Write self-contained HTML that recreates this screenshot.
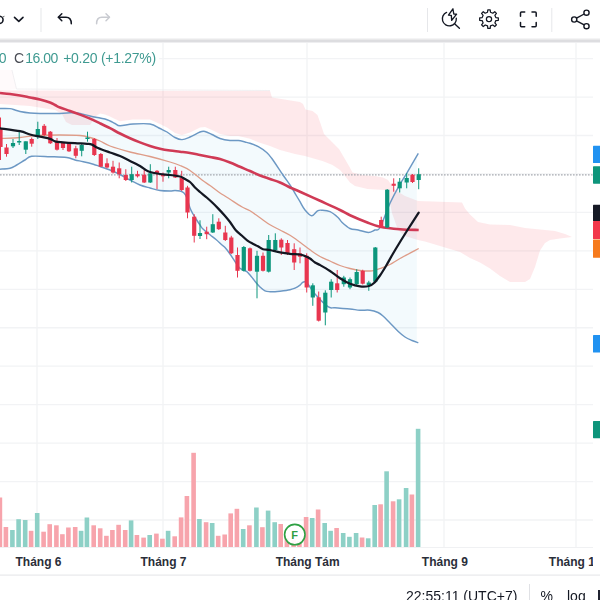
<!DOCTYPE html>
<html><head><meta charset="utf-8">
<style>
html,body{margin:0;padding:0;background:#fff;}
body{width:600px;height:600px;overflow:hidden;position:relative;font-family:"Liberation Sans",sans-serif;}
#root{position:absolute;left:0;top:0;width:600px;height:600px;background:#fff;filter:blur(0.6px);}
.abs{position:absolute;}
.lg{top:49.5px;font-size:14px;white-space:nowrap;letter-spacing:-0.3px}
.tl{top:554.5px;font-size:12px;font-weight:bold;color:#2A2E39;white-space:nowrap}
.ft{top:588px;font-size:14px;color:#131722;white-space:nowrap}
</style></head>
<body><div id="root">
<svg class="abs" style="left:0;top:0" width="600" height="600" viewBox="0 0 600 600">
<!-- header -->
<rect x="0" y="0" width="600" height="39" fill="#FFFFFF"/>
<rect x="0" y="38.5" width="600" height="1" fill="#EAEAEC"/>
<rect x="0" y="39.5" width="600" height="2.5" fill="#DDDDE0"/>
<rect x="0" y="42" width="600" height="1" fill="#EEEEF0"/>
<!-- left partial icon -->
<circle cx="-0.6" cy="19.8" r="3.7" fill="none" stroke="#131722" stroke-width="1.5"/><path d="M2.6,17.2 L4.4,16.3" stroke="#555" stroke-width="1"/>
<path d="M14.5,17.3 L18.8,21.3 L23,17.3" fill="none" stroke="#131722" stroke-width="1.6" stroke-linecap="round" stroke-linejoin="round"/>
<rect x="40.5" y="8" width="1" height="24" fill="#E6E7EA"/>
<!-- undo -->
<path d="M58.5,17.3 L66,17.3 C69.5,17.3 71.3,19.8 71.3,23.7" fill="none" stroke="#131722" stroke-width="1.5" stroke-linecap="round"/>
<path d="M61.8,13.8 L58.3,17.3 L61.8,20.8" fill="none" stroke="#131722" stroke-width="1.5" stroke-linecap="round" stroke-linejoin="round"/>
<!-- redo -->
<path d="M109.3,17.3 L101.8,17.3 C98.3,17.3 96.6,19.8 96.6,23.7" fill="none" stroke="#C9CBD1" stroke-width="1.5" stroke-linecap="round"/>
<path d="M106,13.8 L109.5,17.3 L106,20.8" fill="none" stroke="#C9CBD1" stroke-width="1.5" stroke-linecap="round" stroke-linejoin="round"/>
<rect x="427" y="8" width="1" height="24" fill="#E6E7EA"/>
<!-- search flash icon -->
<g fill="none" stroke="#131722" stroke-width="1.35" stroke-linejoin="round" stroke-linecap="round">
<path d="M446.6,12.4 A7,7 0 1 0 456.3,18.2"/>
<path d="M452.9,8.8 L448.5,15.1 L451.3,15.3 L451.7,20.4 L456.6,14.2 L453.8,14.0 Z"/>
<path d="M454.6,23.7 L459.4,28.3"/>
</g>
<!-- gear -->
<g transform="translate(489,19.1)">
<path d="M6.84,-1.47 L9.33,-1.18 L9.33,1.18 L6.84,1.47 L5.88,3.80 L7.43,5.76 L5.76,7.43 L3.80,5.88 L1.47,6.84 L1.18,9.33 L-1.18,9.33 L-1.47,6.84 L-3.80,5.88 L-5.76,7.43 L-7.43,5.76 L-5.88,3.80 L-6.84,1.47 L-9.33,1.18 L-9.33,-1.18 L-6.84,-1.47 L-5.88,-3.80 L-7.43,-5.76 L-5.76,-7.43 L-3.80,-5.88 L-1.47,-6.84 L-1.18,-9.33 L1.18,-9.33 L1.47,-6.84 L3.80,-5.88 L5.76,-7.43 L7.43,-5.76 L5.88,-3.80 Z" fill="none" stroke="#131722" stroke-width="1.25" stroke-linejoin="round"/>
<circle cx="0" cy="0" r="2.6" fill="none" stroke="#131722" stroke-width="1.25"/>
</g>
<!-- fullscreen -->
<g fill="none" stroke="#131722" stroke-width="1.5" stroke-linecap="round">
<path d="M520.5,16.2 L520.5,13 Q520.5,12 521.5,12 L524.7,12"/>
<path d="M532,12 L535.2,12 Q536.2,12 536.2,13 L536.2,16.2"/>
<path d="M520.5,22.6 L520.5,25.8 Q520.5,26.8 521.5,26.8 L524.7,26.8"/>
<path d="M532,26.8 L535.2,26.8 Q536.2,26.8 536.2,25.8 L536.2,22.6"/>
</g>
<rect x="551.3" y="8" width="1" height="24" fill="#E6E7EA"/>
<!-- share -->
<g fill="none" stroke="#131722" stroke-width="1.4">
<circle cx="574.2" cy="19.5" r="2.6"/>
<circle cx="586.5" cy="12.7" r="2.6"/>
<circle cx="586.5" cy="26.2" r="2.6"/>
<path d="M576.5,18.2 L584.2,14"/>
<path d="M576.5,20.8 L584.2,24.9"/>
</g>
<line x1="0" y1="58.6" x2="593" y2="58.6" stroke="#F2F3F5" stroke-width="1.3"/>
<line x1="0" y1="97.05000000000001" x2="593" y2="97.05000000000001" stroke="#F2F3F5" stroke-width="1.3"/>
<line x1="0" y1="135.5" x2="593" y2="135.5" stroke="#F2F3F5" stroke-width="1.3"/>
<line x1="0" y1="173.95000000000002" x2="593" y2="173.95000000000002" stroke="#F2F3F5" stroke-width="1.3"/>
<line x1="0" y1="212.4" x2="593" y2="212.4" stroke="#F2F3F5" stroke-width="1.3"/>
<line x1="0" y1="250.85" x2="593" y2="250.85" stroke="#F2F3F5" stroke-width="1.3"/>
<line x1="0" y1="289.3" x2="593" y2="289.3" stroke="#F2F3F5" stroke-width="1.3"/>
<line x1="0" y1="327.75000000000006" x2="593" y2="327.75000000000006" stroke="#F2F3F5" stroke-width="1.3"/>
<line x1="0" y1="366.20000000000005" x2="593" y2="366.20000000000005" stroke="#F2F3F5" stroke-width="1.3"/>
<line x1="0" y1="404.65000000000003" x2="593" y2="404.65000000000003" stroke="#F2F3F5" stroke-width="1.3"/>
<line x1="0" y1="443.1" x2="593" y2="443.1" stroke="#F2F3F5" stroke-width="1.3"/>
<line x1="0" y1="481.55000000000007" x2="593" y2="481.55000000000007" stroke="#F2F3F5" stroke-width="1.3"/>
<line x1="0" y1="520.0" x2="593" y2="520.0" stroke="#F2F3F5" stroke-width="1.3"/>
<line x1="37" y1="43" x2="37" y2="547" stroke="#F2F3F5" stroke-width="1.3"/>
<line x1="163" y1="43" x2="163" y2="547" stroke="#F2F3F5" stroke-width="1.3"/>
<line x1="307" y1="43" x2="307" y2="547" stroke="#F2F3F5" stroke-width="1.3"/>
<line x1="444" y1="43" x2="444" y2="547" stroke="#F2F3F5" stroke-width="1.3"/>
<line x1="576" y1="43" x2="576" y2="547" stroke="#F2F3F5" stroke-width="1.3"/>
<polygon points="0.0,90.5 17.0,90.5 270.0,91.0 272.0,97.5 300.0,102.0 303.0,104.0 305.5,109.5 312.5,111.0 317.5,115.0 321.0,125.0 324.0,134.0 329.0,139.0 334.0,144.0 339.0,149.0 344.0,157.5 349.0,166.0 352.5,172.5 362.5,175.0 375.0,176.0 383.0,177.5 388.0,180.0 395.0,190.0 405.0,196.0 418.0,201.0 462.0,202.5 465.0,208.5 470.0,214.5 478.0,222.0 490.0,224.4 510.0,225.0 525.0,228.0 540.0,229.5 555.0,231.0 565.0,234.0 572.0,237.0 572.0,237.0 560.0,238.5 550.0,240.0 545.0,243.0 540.0,250.5 535.0,267.0 530.0,279.0 525.0,282.0 510.0,282.0 500.0,276.0 490.0,268.5 480.0,262.5 470.0,258.0 460.0,252.0 450.0,249.0 440.0,246.0 425.0,241.5 418.0,240.0 405.0,236.0 398.0,230.0 392.0,213.0 388.0,193.0 385.0,190.0 367.5,189.0 355.0,186.0 350.0,182.5 345.0,176.0 340.0,170.0 332.5,165.0 322.5,161.0 305.0,156.0 295.0,154.0 280.0,150.0 270.0,146.0 258.3,142.2 250.0,138.8 245.0,137.5 238.3,136.0 230.0,136.0 220.0,134.0 212.0,130.0 205.0,127.0 200.0,127.5 190.0,132.5 182.0,135.1 175.0,133.0 167.0,127.5 160.0,124.0 150.0,119.5 133.0,119.5 120.0,121.3 115.0,119.0 110.0,116.5 105.0,114.5 100.0,113.5 96.0,116.0 90.0,125.0 72.0,125.0 66.0,122.0 62.0,114.0 55.0,110.0 30.0,106.0 0.0,104.0" fill="#F23645" fill-opacity="0.11"/>
<polygon points="0,62 10,62 16.5,89 0,91" fill="#F23645" fill-opacity="0.025"/>
<path d="M10,62 L16.5,89 L270,90.5" fill="none" stroke="#EEECEF" stroke-width="0.8"/>
<polygon points="0.0,108.5 10.0,108.6 15.0,110.0 20.0,111.5 30.0,113.0 40.0,113.5 60.0,113.5 70.0,112.7 75.0,112.8 80.0,113.5 90.0,116.0 100.0,118.0 105.0,119.0 110.0,121.0 115.0,123.5 120.0,125.8 133.0,124.0 150.0,124.0 160.0,128.5 167.0,132.0 175.0,137.5 182.0,139.6 190.0,137.0 200.0,132.0 205.0,131.5 212.0,134.5 220.0,138.5 230.0,140.5 238.3,140.5 245.0,142.0 250.0,143.3 258.3,146.7 266.7,152.5 271.7,158.3 283.0,175.0 290.0,185.0 295.0,193.3 300.0,201.7 305.0,210.0 311.7,215.8 317.5,210.8 322.0,210.2 330.0,211.7 338.0,217.5 341.7,222.0 350.0,228.5 358.3,230.0 368.3,232.5 375.0,230.0 380.0,227.5 390.0,203.3 400.0,184.2 406.7,173.3 416.8,155.9 416.8,342.3 412.0,340.5 405.0,337.0 398.0,331.2 390.0,323.0 383.0,316.0 378.0,312.5 370.0,310.2 360.0,310.2 350.0,309.0 335.0,307.8 328.0,306.7 315.0,294.0 307.0,283.0 303.0,282.2 300.0,285.2 295.0,288.2 290.0,289.7 280.0,291.2 275.0,291.7 270.0,291.7 265.0,290.8 260.0,287.0 256.0,282.5 253.0,278.7 250.0,275.0 247.0,271.7 245.0,270.8 240.0,268.3 238.0,265.8 235.0,261.7 230.0,254.0 225.0,247.5 222.0,245.0 216.0,239.5 210.0,234.8 203.0,229.0 200.0,225.0 196.0,219.0 193.0,214.0 190.0,208.0 187.0,198.0 184.0,193.0 180.0,191.0 175.0,190.5 170.0,191.0 160.0,190.5 150.0,188.0 140.0,185.0 130.0,180.0 120.0,174.5 110.0,170.0 100.0,166.5 93.3,164.2 83.3,161.7 75.0,160.0 66.7,157.5 50.0,156.7 31.7,156.3 25.0,160.0 16.7,165.0 10.0,168.3 0.0,169.2" fill="#2FA5D8" fill-opacity="0.06"/>
<line x1="0" y1="174.8" x2="593" y2="174.8" stroke="#A6A9B0" stroke-width="1.2" stroke-dasharray="1.6,1.4"/>
<path d="M0.00,108.50 C1.67,108.52 7.50,108.35 10.00,108.60 C12.50,108.85 13.33,109.52 15.00,110.00 C16.67,110.48 17.50,111.00 20.00,111.50 C22.50,112.00 26.67,112.67 30.00,113.00 C33.33,113.33 35.00,113.42 40.00,113.50 C45.00,113.58 55.00,113.63 60.00,113.50 C65.00,113.37 67.50,112.82 70.00,112.70 C72.50,112.58 73.33,112.67 75.00,112.80 C76.67,112.93 77.50,112.97 80.00,113.50 C82.50,114.03 86.67,115.25 90.00,116.00 C93.33,116.75 97.50,117.50 100.00,118.00 C102.50,118.50 103.33,118.50 105.00,119.00 C106.67,119.50 108.33,120.25 110.00,121.00 C111.67,121.75 113.33,122.70 115.00,123.50 C116.67,124.30 117.00,125.72 120.00,125.80 C123.00,125.88 128.00,124.30 133.00,124.00 C138.00,123.70 145.50,123.25 150.00,124.00 C154.50,124.75 157.17,127.17 160.00,128.50 C162.83,129.83 164.50,130.50 167.00,132.00 C169.50,133.50 172.50,136.23 175.00,137.50 C177.50,138.77 179.50,139.68 182.00,139.60 C184.50,139.52 187.00,138.27 190.00,137.00 C193.00,135.73 197.50,132.92 200.00,132.00 C202.50,131.08 203.00,131.08 205.00,131.50 C207.00,131.92 209.50,133.33 212.00,134.50 C214.50,135.67 217.00,137.50 220.00,138.50 C223.00,139.50 226.95,140.17 230.00,140.50 C233.05,140.83 235.80,140.25 238.30,140.50 C240.80,140.75 243.05,141.53 245.00,142.00 C246.95,142.47 247.78,142.52 250.00,143.30 C252.22,144.08 255.52,145.17 258.30,146.70 C261.08,148.23 264.47,150.57 266.70,152.50 C268.93,154.43 268.98,154.55 271.70,158.30 C274.42,162.05 279.95,170.55 283.00,175.00 C286.05,179.45 288.00,181.95 290.00,185.00 C292.00,188.05 293.33,190.52 295.00,193.30 C296.67,196.08 298.33,198.92 300.00,201.70 C301.67,204.48 303.05,207.65 305.00,210.00 C306.95,212.35 309.62,215.67 311.70,215.80 C313.78,215.93 315.78,211.73 317.50,210.80 C319.22,209.87 319.92,210.05 322.00,210.20 C324.08,210.35 327.33,210.48 330.00,211.70 C332.67,212.92 336.05,215.78 338.00,217.50 C339.95,219.22 339.70,220.17 341.70,222.00 C343.70,223.83 347.23,227.17 350.00,228.50 C352.77,229.83 355.25,229.33 358.30,230.00 C361.35,230.67 365.52,232.50 368.30,232.50 C371.08,232.50 373.05,230.83 375.00,230.00 C376.95,229.17 377.50,231.95 380.00,227.50 C382.50,223.05 386.67,210.52 390.00,203.30 C393.33,196.08 397.22,189.20 400.00,184.20 C402.78,179.20 403.65,178.45 406.70,173.30 C409.75,168.15 416.37,156.63 418.30,153.30" fill="none" stroke="#6C98C4" stroke-width="1.45" stroke-linejoin="round"/>
<path d="M0.00,169.20 C1.67,169.05 7.22,169.00 10.00,168.30 C12.78,167.60 14.20,166.38 16.70,165.00 C19.20,163.62 22.50,161.45 25.00,160.00 C27.50,158.55 27.53,156.85 31.70,156.30 C35.87,155.75 44.17,156.50 50.00,156.70 C55.83,156.90 62.53,156.95 66.70,157.50 C70.87,158.05 72.23,159.30 75.00,160.00 C77.77,160.70 80.25,161.00 83.30,161.70 C86.35,162.40 90.52,163.40 93.30,164.20 C96.08,165.00 97.22,165.53 100.00,166.50 C102.78,167.47 106.67,168.67 110.00,170.00 C113.33,171.33 116.67,172.83 120.00,174.50 C123.33,176.17 126.67,178.25 130.00,180.00 C133.33,181.75 136.67,183.67 140.00,185.00 C143.33,186.33 146.67,187.08 150.00,188.00 C153.33,188.92 156.67,190.00 160.00,190.50 C163.33,191.00 167.50,191.00 170.00,191.00 C172.50,191.00 173.33,190.50 175.00,190.50 C176.67,190.50 178.50,190.58 180.00,191.00 C181.50,191.42 182.83,191.83 184.00,193.00 C185.17,194.17 186.00,195.50 187.00,198.00 C188.00,200.50 189.00,205.33 190.00,208.00 C191.00,210.67 192.00,212.17 193.00,214.00 C194.00,215.83 194.83,217.17 196.00,219.00 C197.17,220.83 198.83,223.33 200.00,225.00 C201.17,226.67 201.33,227.37 203.00,229.00 C204.67,230.63 207.83,233.05 210.00,234.80 C212.17,236.55 214.00,237.80 216.00,239.50 C218.00,241.20 220.50,243.67 222.00,245.00 C223.50,246.33 223.67,246.00 225.00,247.50 C226.33,249.00 228.33,251.63 230.00,254.00 C231.67,256.37 233.67,259.73 235.00,261.70 C236.33,263.67 237.17,264.70 238.00,265.80 C238.83,266.90 238.83,267.47 240.00,268.30 C241.17,269.13 243.83,270.23 245.00,270.80 C246.17,271.37 246.17,271.00 247.00,271.70 C247.83,272.40 249.00,273.83 250.00,275.00 C251.00,276.17 252.00,277.45 253.00,278.70 C254.00,279.95 254.83,281.12 256.00,282.50 C257.17,283.88 258.50,285.62 260.00,287.00 C261.50,288.38 263.33,290.02 265.00,290.80 C266.67,291.58 268.33,291.55 270.00,291.70 C271.67,291.85 273.33,291.78 275.00,291.70 C276.67,291.62 277.50,291.53 280.00,291.20 C282.50,290.87 287.50,290.20 290.00,289.70 C292.50,289.20 293.33,288.95 295.00,288.20 C296.67,287.45 298.67,286.20 300.00,285.20 C301.33,284.20 301.83,282.57 303.00,282.20 C304.17,281.83 305.00,281.03 307.00,283.00 C309.00,284.97 311.50,290.05 315.00,294.00 C318.50,297.95 324.67,304.40 328.00,306.70 C331.33,309.00 331.33,307.42 335.00,307.80 C338.67,308.18 345.83,308.60 350.00,309.00 C354.17,309.40 356.67,310.00 360.00,310.20 C363.33,310.40 367.00,309.82 370.00,310.20 C373.00,310.58 375.83,311.53 378.00,312.50 C380.17,313.47 381.00,314.25 383.00,316.00 C385.00,317.75 387.50,320.47 390.00,323.00 C392.50,325.53 395.50,328.87 398.00,331.20 C400.50,333.53 402.67,335.45 405.00,337.00 C407.33,338.55 409.78,339.53 412.00,340.50 C414.22,341.47 417.25,342.42 418.30,342.80" fill="none" stroke="#6C98C4" stroke-width="1.45" stroke-linejoin="round"/>
<path d="M0.00,138.50 C3.33,138.33 14.17,138.00 20.00,137.50 C25.83,137.00 28.33,135.92 35.00,135.50 C41.67,135.08 52.50,135.00 60.00,135.00 C67.50,135.00 75.00,135.08 80.00,135.50 C85.00,135.92 86.67,136.58 90.00,137.50 C93.33,138.42 96.67,139.58 100.00,141.00 C103.33,142.42 105.00,144.17 110.00,146.00 C115.00,147.83 123.33,150.25 130.00,152.00 C136.67,153.75 143.33,154.83 150.00,156.50 C156.67,158.17 165.00,160.50 170.00,162.00 C175.00,163.50 176.67,164.08 180.00,165.50 C183.33,166.92 186.33,168.08 190.00,170.50 C193.67,172.92 198.67,177.50 202.00,180.00 C205.33,182.50 207.28,183.55 210.00,185.50 C212.72,187.45 214.97,189.40 218.30,191.70 C221.63,194.00 226.10,196.78 230.00,199.30 C233.90,201.82 238.37,204.88 241.70,206.80 C245.03,208.72 246.95,208.97 250.00,210.80 C253.05,212.63 256.67,215.47 260.00,217.80 C263.33,220.13 266.67,222.77 270.00,224.80 C273.33,226.83 276.67,228.25 280.00,230.00 C283.33,231.75 286.67,233.25 290.00,235.30 C293.33,237.35 296.67,239.88 300.00,242.30 C303.33,244.72 306.67,247.43 310.00,249.80 C313.33,252.17 316.67,254.63 320.00,256.50 C323.33,258.37 326.67,259.50 330.00,261.00 C333.33,262.50 336.67,264.25 340.00,265.50 C343.33,266.75 346.67,267.67 350.00,268.50 C353.33,269.33 356.67,270.08 360.00,270.50 C363.33,270.92 367.50,271.05 370.00,271.00 C372.50,270.95 373.33,270.62 375.00,270.20 C376.67,269.78 377.50,269.45 380.00,268.50 C382.50,267.55 386.67,266.17 390.00,264.50 C393.33,262.83 395.22,261.17 400.00,258.50 C404.78,255.83 415.58,250.17 418.70,248.50" fill="none" stroke="#DE9C88" stroke-width="1.3" stroke-linejoin="round"/>
<path d="M0.00,93.00 C1.67,93.17 6.67,93.58 10.00,94.00 C13.33,94.42 16.67,94.92 20.00,95.50 C23.33,96.08 26.67,96.83 30.00,97.50 C33.33,98.17 36.67,98.67 40.00,99.50 C43.33,100.33 47.50,101.58 50.00,102.50 C52.50,103.42 53.33,104.17 55.00,105.00 C56.67,105.83 57.50,106.52 60.00,107.50 C62.50,108.48 66.67,109.72 70.00,110.90 C73.33,112.08 76.67,113.32 80.00,114.60 C83.33,115.88 86.67,117.15 90.00,118.60 C93.33,120.05 96.67,121.70 100.00,123.30 C103.33,124.90 106.67,126.50 110.00,128.20 C113.33,129.90 116.67,131.82 120.00,133.50 C123.33,135.18 126.67,136.82 130.00,138.30 C133.33,139.78 136.67,141.12 140.00,142.40 C143.33,143.68 146.67,144.95 150.00,146.00 C153.33,147.05 156.67,147.95 160.00,148.70 C163.33,149.45 166.67,150.00 170.00,150.50 C173.33,151.00 176.67,151.28 180.00,151.70 C183.33,152.12 186.67,152.45 190.00,153.00 C193.33,153.55 196.67,154.33 200.00,155.00 C203.33,155.67 206.67,156.33 210.00,157.00 C213.33,157.67 216.67,158.08 220.00,159.00 C223.33,159.92 226.67,161.20 230.00,162.50 C233.33,163.80 236.67,165.38 240.00,166.80 C243.33,168.22 246.67,169.55 250.00,171.00 C253.33,172.45 256.67,174.17 260.00,175.50 C263.33,176.83 266.67,177.83 270.00,179.00 C273.33,180.17 276.67,181.08 280.00,182.50 C283.33,183.92 286.67,185.97 290.00,187.50 C293.33,189.03 295.00,189.48 300.00,191.70 C305.00,193.92 313.33,197.75 320.00,200.80 C326.67,203.85 335.00,207.58 340.00,210.00 C345.00,212.42 345.55,213.25 350.00,215.30 C354.45,217.35 361.70,220.40 366.70,222.30 C371.70,224.20 374.45,225.55 380.00,226.70 C385.55,227.85 393.55,228.65 400.00,229.20 C406.45,229.75 415.58,229.87 418.70,230.00" fill="none" stroke="#D03A55" stroke-width="2.6" stroke-linejoin="round"/>
<rect x="-2.4" y="497.5" width="4.6" height="49.5" fill="#F7A4AC"/>
<rect x="3.6" y="527.0" width="4.6" height="20.0" fill="#F7A4AC"/>
<rect x="10.1" y="530.0" width="4.6" height="17.0" fill="#8DD0C6"/>
<rect x="16.3" y="519.2" width="4.6" height="27.8" fill="#8DD0C6"/>
<rect x="22.9" y="520.0" width="4.6" height="27.0" fill="#8DD0C6"/>
<rect x="28.8" y="530.8" width="4.6" height="16.2" fill="#F7A4AC"/>
<rect x="34.9" y="513.0" width="4.6" height="34.0" fill="#8DD0C6"/>
<rect x="41.3" y="531.7" width="4.6" height="15.3" fill="#F7A4AC"/>
<rect x="47.4" y="524.2" width="4.6" height="22.8" fill="#F7A4AC"/>
<rect x="54.1" y="525.3" width="4.6" height="21.7" fill="#F7A4AC"/>
<rect x="60.1" y="534.2" width="4.6" height="12.8" fill="#F7A4AC"/>
<rect x="66.1" y="527.5" width="4.6" height="19.5" fill="#F7A4AC"/>
<rect x="72.9" y="527.0" width="4.6" height="20.0" fill="#F7A4AC"/>
<rect x="78.8" y="530.8" width="4.6" height="16.2" fill="#8DD0C6"/>
<rect x="84.6" y="517.5" width="4.6" height="29.5" fill="#8DD0C6"/>
<rect x="91.4" y="525.3" width="4.6" height="21.7" fill="#F7A4AC"/>
<rect x="97.9" y="528.3" width="4.6" height="18.7" fill="#F7A4AC"/>
<rect x="104.1" y="535.8" width="4.6" height="11.2" fill="#F7A4AC"/>
<rect x="110.1" y="530.0" width="4.6" height="17.0" fill="#F7A4AC"/>
<rect x="116.3" y="524.8" width="4.6" height="22.2" fill="#F7A4AC"/>
<rect x="122.9" y="530.0" width="4.6" height="17.0" fill="#F7A4AC"/>
<rect x="128.8" y="520.4" width="4.6" height="26.6" fill="#8DD0C6"/>
<rect x="134.6" y="535.0" width="4.6" height="12.0" fill="#F7A4AC"/>
<rect x="141.3" y="537.6" width="4.6" height="9.4" fill="#F7A4AC"/>
<rect x="147.4" y="535.0" width="4.6" height="12.0" fill="#8DD0C6"/>
<rect x="154.1" y="533.6" width="4.6" height="13.4" fill="#F7A4AC"/>
<rect x="160.1" y="538.7" width="4.6" height="8.3" fill="#F7A4AC"/>
<rect x="165.8" y="530.8" width="4.6" height="16.2" fill="#8DD0C6"/>
<rect x="172.4" y="536.3" width="4.6" height="10.7" fill="#F7A4AC"/>
<rect x="178.8" y="517.4" width="4.6" height="29.6" fill="#F7A4AC"/>
<rect x="184.6" y="496.0" width="4.6" height="51.0" fill="#F7A4AC"/>
<rect x="191.3" y="452.8" width="4.6" height="94.2" fill="#F7A4AC"/>
<rect x="197.1" y="519.0" width="4.6" height="28.0" fill="#8DD0C6"/>
<rect x="203.8" y="522.2" width="4.6" height="24.8" fill="#F7A4AC"/>
<rect x="209.9" y="523.0" width="4.6" height="24.0" fill="#8DD0C6"/>
<rect x="215.9" y="535.8" width="4.6" height="11.2" fill="#F7A4AC"/>
<rect x="222.4" y="534.5" width="4.6" height="12.5" fill="#F7A4AC"/>
<rect x="228.4" y="513.4" width="4.6" height="33.6" fill="#F7A4AC"/>
<rect x="234.6" y="508.8" width="4.6" height="38.2" fill="#F7A4AC"/>
<rect x="240.9" y="529.0" width="4.6" height="18.0" fill="#8DD0C6"/>
<rect x="247.1" y="525.3" width="4.6" height="21.7" fill="#F7A4AC"/>
<rect x="254.1" y="507.5" width="4.6" height="39.5" fill="#8DD0C6"/>
<rect x="260.1" y="527.2" width="4.6" height="19.8" fill="#F7A4AC"/>
<rect x="265.8" y="510.6" width="4.6" height="36.4" fill="#8DD0C6"/>
<rect x="272.4" y="522.2" width="4.6" height="24.8" fill="#8DD0C6"/>
<rect x="278.4" y="524.0" width="4.6" height="23.0" fill="#F7A4AC"/>
<rect x="284.6" y="538.0" width="4.6" height="9.0" fill="#F7A4AC"/>
<rect x="291.3" y="540.0" width="4.6" height="7.0" fill="#F7A4AC"/>
<rect x="297.1" y="541.0" width="4.6" height="6.0" fill="#F7A4AC"/>
<rect x="303.8" y="517.0" width="4.6" height="30.0" fill="#F7A4AC"/>
<rect x="309.9" y="518.0" width="4.6" height="29.0" fill="#8DD0C6"/>
<rect x="315.8" y="509.5" width="4.6" height="37.5" fill="#F7A4AC"/>
<rect x="322.4" y="523.0" width="4.6" height="24.0" fill="#8DD0C6"/>
<rect x="328.3" y="530.8" width="4.6" height="16.2" fill="#8DD0C6"/>
<rect x="334.3" y="528.0" width="4.6" height="19.0" fill="#F7A4AC"/>
<rect x="340.9" y="533.0" width="4.6" height="14.0" fill="#8DD0C6"/>
<rect x="347.1" y="536.8" width="4.6" height="10.2" fill="#8DD0C6"/>
<rect x="353.8" y="533.0" width="4.6" height="14.0" fill="#8DD0C6"/>
<rect x="359.8" y="537.5" width="4.6" height="9.5" fill="#F7A4AC"/>
<rect x="365.9" y="538.3" width="4.6" height="8.7" fill="#8DD0C6"/>
<rect x="372.4" y="505.0" width="4.6" height="42.0" fill="#8DD0C6"/>
<rect x="378.3" y="504.3" width="4.6" height="42.7" fill="#F7A4AC"/>
<rect x="384.3" y="471.3" width="4.6" height="75.7" fill="#8DD0C6"/>
<rect x="390.8" y="501.3" width="4.6" height="45.7" fill="#F7A4AC"/>
<rect x="396.8" y="499.3" width="4.6" height="47.7" fill="#8DD0C6"/>
<rect x="403.8" y="488.0" width="4.6" height="59.0" fill="#8DD0C6"/>
<rect x="409.6" y="494.5" width="4.6" height="52.5" fill="#F7A4AC"/>
<rect x="415.8" y="428.8" width="4.6" height="118.2" fill="#8DD0C6"/>
<rect x="0.0" y="117.5" width="1" height="42.5" fill="#E8364F"/>
<rect x="-1.6" y="128.0" width="4.2" height="19.0" fill="#E8364F"/>
<rect x="6.0" y="144.0" width="1" height="12.7" fill="#E8364F"/>
<rect x="4.4" y="147.5" width="4.2" height="6.5" fill="#E8364F"/>
<rect x="12.5" y="139.0" width="1" height="9.0" fill="#0C967C"/>
<rect x="10.9" y="143.0" width="4.2" height="3.3" fill="#0C967C"/>
<rect x="18.7" y="130.0" width="1" height="15.0" fill="#0C967C"/>
<rect x="17.1" y="141.0" width="4.2" height="1.5" fill="#0C967C"/>
<rect x="25.3" y="141.3" width="1" height="12.7" fill="#0C967C"/>
<rect x="23.7" y="141.3" width="4.2" height="8.4" fill="#0C967C"/>
<rect x="31.2" y="137.5" width="1" height="9.2" fill="#E8364F"/>
<rect x="29.6" y="139.0" width="4.2" height="4.7" fill="#E8364F"/>
<rect x="37.3" y="121.7" width="1" height="17.3" fill="#0C967C"/>
<rect x="35.7" y="129.0" width="4.2" height="7.7" fill="#0C967C"/>
<rect x="43.7" y="124.0" width="1" height="12.0" fill="#E8364F"/>
<rect x="42.1" y="125.8" width="4.2" height="9.2" fill="#E8364F"/>
<rect x="49.8" y="131.0" width="1" height="13.0" fill="#E8364F"/>
<rect x="48.2" y="131.7" width="4.2" height="11.6" fill="#E8364F"/>
<rect x="56.5" y="138.0" width="1" height="12.5" fill="#E8364F"/>
<rect x="54.9" y="141.7" width="4.2" height="8.0" fill="#E8364F"/>
<rect x="62.5" y="142.0" width="1" height="8.0" fill="#E8364F"/>
<rect x="60.9" y="143.0" width="4.2" height="5.0" fill="#E8364F"/>
<rect x="68.5" y="143.0" width="1" height="9.0" fill="#E8364F"/>
<rect x="66.9" y="143.3" width="4.2" height="8.0" fill="#E8364F"/>
<rect x="75.3" y="145.8" width="1" height="12.5" fill="#E8364F"/>
<rect x="73.7" y="148.3" width="4.2" height="7.5" fill="#E8364F"/>
<rect x="81.2" y="143.3" width="1" height="13.0" fill="#0C967C"/>
<rect x="79.6" y="145.0" width="4.2" height="5.8" fill="#0C967C"/>
<rect x="87.0" y="131.7" width="1" height="10.0" fill="#0C967C"/>
<rect x="85.4" y="137.5" width="4.2" height="1.5" fill="#0C967C"/>
<rect x="93.8" y="138.0" width="1" height="18.0" fill="#E8364F"/>
<rect x="92.2" y="139.0" width="4.2" height="16.0" fill="#E8364F"/>
<rect x="100.3" y="153.0" width="1" height="14.0" fill="#E8364F"/>
<rect x="98.7" y="154.0" width="4.2" height="12.7" fill="#E8364F"/>
<rect x="106.5" y="158.3" width="1" height="10.0" fill="#E8364F"/>
<rect x="104.9" y="163.3" width="4.2" height="4.2" fill="#E8364F"/>
<rect x="112.5" y="160.8" width="1" height="12.7" fill="#E8364F"/>
<rect x="110.9" y="166.7" width="4.2" height="5.8" fill="#E8364F"/>
<rect x="118.7" y="162.5" width="1" height="15.8" fill="#E8364F"/>
<rect x="117.1" y="168.3" width="4.2" height="5.9" fill="#E8364F"/>
<rect x="125.3" y="169.2" width="1" height="11.8" fill="#E8364F"/>
<rect x="123.7" y="175.0" width="4.2" height="5.0" fill="#E8364F"/>
<rect x="131.2" y="166.7" width="1" height="15.8" fill="#0C967C"/>
<rect x="129.6" y="174.2" width="4.2" height="5.8" fill="#0C967C"/>
<rect x="137.0" y="170.8" width="1" height="6.7" fill="#E8364F"/>
<rect x="135.4" y="174.2" width="4.2" height="2.1" fill="#E8364F"/>
<rect x="143.7" y="170.0" width="1" height="13.0" fill="#E8364F"/>
<rect x="142.1" y="174.7" width="4.2" height="7.8" fill="#E8364F"/>
<rect x="149.8" y="164.2" width="1" height="18.8" fill="#0C967C"/>
<rect x="148.2" y="173.3" width="4.2" height="9.2" fill="#0C967C"/>
<rect x="156.5" y="170.0" width="1" height="19.2" fill="#E8364F"/>
<rect x="154.9" y="170.8" width="4.2" height="2.5" fill="#E8364F"/>
<rect x="162.5" y="172.5" width="1" height="9.2" fill="#E8364F"/>
<rect x="160.9" y="174.2" width="4.2" height="2.1" fill="#E8364F"/>
<rect x="168.2" y="166.7" width="1" height="11.6" fill="#0C967C"/>
<rect x="166.6" y="170.0" width="4.2" height="2.5" fill="#0C967C"/>
<rect x="174.8" y="166.7" width="1" height="11.3" fill="#E8364F"/>
<rect x="173.2" y="170.0" width="4.2" height="7.5" fill="#E8364F"/>
<rect x="181.2" y="170.8" width="1" height="20.2" fill="#E8364F"/>
<rect x="179.6" y="177.5" width="4.2" height="12.5" fill="#E8364F"/>
<rect x="187.0" y="185.8" width="1" height="32.5" fill="#E8364F"/>
<rect x="185.4" y="187.5" width="4.2" height="25.0" fill="#E8364F"/>
<rect x="193.7" y="214.2" width="1" height="28.3" fill="#E8364F"/>
<rect x="192.1" y="216.7" width="4.2" height="19.1" fill="#E8364F"/>
<rect x="199.5" y="220.3" width="1" height="18.7" fill="#0C967C"/>
<rect x="197.9" y="233.0" width="4.2" height="3.0" fill="#0C967C"/>
<rect x="206.2" y="226.7" width="1" height="12.5" fill="#E8364F"/>
<rect x="204.6" y="231.7" width="4.2" height="2.5" fill="#E8364F"/>
<rect x="212.3" y="214.2" width="1" height="18.8" fill="#0C967C"/>
<rect x="210.7" y="224.2" width="4.2" height="8.3" fill="#0C967C"/>
<rect x="218.3" y="218.3" width="1" height="11.7" fill="#E8364F"/>
<rect x="216.7" y="221.7" width="4.2" height="7.5" fill="#E8364F"/>
<rect x="224.8" y="225.8" width="1" height="15.2" fill="#E8364F"/>
<rect x="223.2" y="232.5" width="4.2" height="7.5" fill="#E8364F"/>
<rect x="230.8" y="235.8" width="1" height="18.2" fill="#E8364F"/>
<rect x="229.2" y="237.5" width="4.2" height="15.8" fill="#E8364F"/>
<rect x="237.0" y="247.5" width="1" height="30.0" fill="#E8364F"/>
<rect x="235.4" y="255.0" width="4.2" height="15.8" fill="#E8364F"/>
<rect x="243.3" y="246.0" width="1" height="25.5" fill="#0C967C"/>
<rect x="241.7" y="247.0" width="4.2" height="23.8" fill="#0C967C"/>
<rect x="249.5" y="247.5" width="1" height="24.0" fill="#E8364F"/>
<rect x="247.9" y="248.3" width="4.2" height="22.5" fill="#E8364F"/>
<rect x="256.5" y="250.8" width="1" height="47.5" fill="#0C967C"/>
<rect x="254.9" y="255.8" width="4.2" height="15.9" fill="#0C967C"/>
<rect x="262.5" y="252.5" width="1" height="19.0" fill="#E8364F"/>
<rect x="260.9" y="255.8" width="4.2" height="15.0" fill="#E8364F"/>
<rect x="268.2" y="235.0" width="1" height="37.5" fill="#0C967C"/>
<rect x="266.6" y="240.0" width="4.2" height="31.7" fill="#0C967C"/>
<rect x="274.8" y="233.3" width="1" height="17.7" fill="#0C967C"/>
<rect x="273.2" y="240.0" width="4.2" height="10.0" fill="#0C967C"/>
<rect x="280.8" y="238.3" width="1" height="16.7" fill="#E8364F"/>
<rect x="279.2" y="239.7" width="4.2" height="7.8" fill="#E8364F"/>
<rect x="287.0" y="240.0" width="1" height="15.0" fill="#E8364F"/>
<rect x="285.4" y="243.0" width="4.2" height="10.3" fill="#E8364F"/>
<rect x="293.7" y="243.3" width="1" height="26.7" fill="#E8364F"/>
<rect x="292.1" y="249.2" width="4.2" height="13.3" fill="#E8364F"/>
<rect x="299.5" y="247.5" width="1" height="15.8" fill="#E8364F"/>
<rect x="297.9" y="253.3" width="4.2" height="3.4" fill="#E8364F"/>
<rect x="306.2" y="253.3" width="1" height="39.2" fill="#E8364F"/>
<rect x="304.6" y="255.8" width="4.2" height="31.7" fill="#E8364F"/>
<rect x="312.3" y="283.3" width="1" height="22.5" fill="#0C967C"/>
<rect x="310.7" y="285.3" width="4.2" height="12.2" fill="#0C967C"/>
<rect x="318.2" y="291.5" width="1" height="30.0" fill="#E8364F"/>
<rect x="316.6" y="297.3" width="4.2" height="23.4" fill="#E8364F"/>
<rect x="324.8" y="290.3" width="1" height="35.0" fill="#0C967C"/>
<rect x="323.2" y="292.7" width="4.2" height="19.8" fill="#0C967C"/>
<rect x="330.7" y="279.2" width="1" height="18.3" fill="#0C967C"/>
<rect x="329.1" y="281.7" width="4.2" height="8.3" fill="#0C967C"/>
<rect x="336.7" y="270.0" width="1" height="22.5" fill="#E8364F"/>
<rect x="335.1" y="283.3" width="4.2" height="6.7" fill="#E8364F"/>
<rect x="343.3" y="275.8" width="1" height="10.9" fill="#0C967C"/>
<rect x="341.7" y="277.5" width="4.2" height="6.7" fill="#0C967C"/>
<rect x="349.5" y="277.5" width="1" height="11.7" fill="#0C967C"/>
<rect x="347.9" y="279.2" width="4.2" height="8.3" fill="#0C967C"/>
<rect x="356.2" y="269.2" width="1" height="15.8" fill="#0C967C"/>
<rect x="354.6" y="272.0" width="4.2" height="12.2" fill="#0C967C"/>
<rect x="362.2" y="269.7" width="1" height="14.8" fill="#E8364F"/>
<rect x="360.6" y="270.8" width="4.2" height="12.9" fill="#E8364F"/>
<rect x="368.3" y="280.8" width="1" height="10.0" fill="#0C967C"/>
<rect x="366.7" y="282.5" width="4.2" height="2.5" fill="#0C967C"/>
<rect x="374.8" y="247.0" width="1" height="35.5" fill="#0C967C"/>
<rect x="373.2" y="247.5" width="4.2" height="34.2" fill="#0C967C"/>
<rect x="380.7" y="216.7" width="1" height="11.3" fill="#E8364F"/>
<rect x="379.1" y="220.0" width="4.2" height="7.5" fill="#E8364F"/>
<rect x="386.7" y="189.0" width="1" height="39.0" fill="#0C967C"/>
<rect x="385.1" y="189.7" width="4.2" height="37.8" fill="#0C967C"/>
<rect x="393.2" y="178.3" width="1" height="13.4" fill="#E8364F"/>
<rect x="391.6" y="183.7" width="4.2" height="2.1" fill="#E8364F"/>
<rect x="399.2" y="178.0" width="1" height="14.5" fill="#0C967C"/>
<rect x="397.6" y="181.7" width="4.2" height="6.6" fill="#0C967C"/>
<rect x="406.2" y="173.3" width="1" height="15.0" fill="#0C967C"/>
<rect x="404.6" y="178.0" width="4.2" height="4.5" fill="#0C967C"/>
<rect x="412.0" y="174.0" width="1" height="9.0" fill="#E8364F"/>
<rect x="410.4" y="174.7" width="4.2" height="7.3" fill="#E8364F"/>
<rect x="418.2" y="168.3" width="1" height="20.9" fill="#0C967C"/>
<rect x="416.6" y="174.2" width="4.2" height="5.8" fill="#0C967C"/>
<path d="M0.00,128.30 C3.33,128.78 15.00,130.17 20.00,131.20 C25.00,132.23 26.67,133.58 30.00,134.50 C33.33,135.42 36.67,135.98 40.00,136.70 C43.33,137.42 47.50,138.03 50.00,138.80 C52.50,139.57 52.83,140.72 55.00,141.30 C57.17,141.88 59.67,141.98 63.00,142.30 C66.33,142.62 71.00,142.95 75.00,143.20 C79.00,143.45 84.17,143.57 87.00,143.80 C89.83,144.03 90.17,143.90 92.00,144.60 C93.83,145.30 95.00,146.68 98.00,148.00 C101.00,149.32 106.33,151.17 110.00,152.50 C113.67,153.83 116.67,154.58 120.00,156.00 C123.33,157.42 126.67,159.33 130.00,161.00 C133.33,162.67 137.50,164.58 140.00,166.00 C142.50,167.42 143.33,168.50 145.00,169.50 C146.67,170.50 147.50,171.25 150.00,172.00 C152.50,172.75 156.67,173.50 160.00,174.00 C163.33,174.50 166.67,174.58 170.00,175.00 C173.33,175.42 177.50,175.83 180.00,176.50 C182.50,177.17 183.33,178.08 185.00,179.00 C186.67,179.92 188.33,180.58 190.00,182.00 C191.67,183.42 193.33,185.83 195.00,187.50 C196.67,189.17 198.05,190.33 200.00,192.00 C201.95,193.67 204.62,195.70 206.70,197.50 C208.78,199.30 210.57,200.95 212.50,202.80 C214.43,204.65 216.35,206.57 218.30,208.60 C220.25,210.63 222.25,212.77 224.20,215.00 C226.15,217.23 228.07,219.47 230.00,222.00 C231.93,224.53 233.85,227.95 235.80,230.20 C237.75,232.45 239.75,233.75 241.70,235.50 C243.65,237.25 245.57,239.28 247.50,240.70 C249.43,242.12 251.55,243.07 253.30,244.00 C255.05,244.93 256.38,245.43 258.00,246.30 C259.62,247.17 261.00,248.58 263.00,249.20 C265.00,249.82 267.17,249.48 270.00,250.00 C272.83,250.52 276.67,251.67 280.00,252.30 C283.33,252.93 286.67,253.43 290.00,253.80 C293.33,254.17 297.50,254.13 300.00,254.50 C302.50,254.87 303.33,255.33 305.00,256.00 C306.67,256.67 308.33,257.42 310.00,258.50 C311.67,259.58 313.33,261.42 315.00,262.50 C316.67,263.58 317.50,263.58 320.00,265.00 C322.50,266.42 326.67,268.78 330.00,271.00 C333.33,273.22 336.67,276.17 340.00,278.30 C343.33,280.43 346.67,282.45 350.00,283.80 C353.33,285.15 356.83,286.03 360.00,286.40 C363.17,286.77 366.67,286.57 369.00,286.00 C371.33,285.43 372.17,284.75 374.00,283.00 C375.83,281.25 378.00,278.33 380.00,275.50 C382.00,272.67 383.92,269.50 386.00,266.00 C388.08,262.50 390.17,258.50 392.50,254.50 C394.83,250.50 397.50,246.08 400.00,242.00 C402.50,237.92 404.38,234.88 407.50,230.00 C410.62,225.12 416.83,215.58 418.70,212.70" fill="none" stroke="#131722" stroke-width="2.25" stroke-linejoin="round" stroke-linecap="round"/>
<circle cx="294.8" cy="534.6" r="10.2" fill="#FFFFFF" fill-opacity="0.92" stroke="#2EA043" stroke-width="1.6"/>
<text x="294.6" y="538.6" font-family="Liberation Sans" font-weight="bold" font-size="11" fill="#2EA043" text-anchor="middle">F</text>
<rect x="593" y="145.8" width="10" height="17.2" rx="0.6" fill="#2192F1"/>
<rect x="593" y="166.2" width="10" height="17.5" rx="0.6" fill="#0E957B"/>
<rect x="593" y="204.8" width="10" height="16.2" rx="0.6" fill="#161A25"/>
<rect x="593" y="221" width="10" height="18.0" rx="0.6" fill="#F2384B"/>
<rect x="593" y="239.4" width="10" height="18.4" rx="0.6" fill="#F67A1C"/>
<rect x="593" y="335" width="10" height="17.5" rx="0.6" fill="#2192F1"/>
<rect x="593" y="421" width="10" height="17.2" rx="0.6" fill="#0E957B"/>
<rect x="0" y="43" width="159" height="27" fill="#FFFFFF"/>
<!-- chart bottom / axis -->
<rect x="0" y="547" width="593" height="1" fill="#F0F1F3"/>
<rect x="0" y="574.5" width="600" height="1.2" fill="#E8E9EC"/>
<rect x="529" y="584" width="1" height="16" fill="#E0E1E5"/>
</svg>
<div class="abs lg" style="left:-1.2px;color:#3F9A91">0</div>
<div class="abs lg" style="left:14px;color:#4A4D55">C</div>
<div class="abs lg" style="left:25.2px;color:#3F9A91;letter-spacing:-0.5px">16.00</div>
<div class="abs lg" style="left:63.2px;color:#3F9A91">+0.20</div>
<div class="abs lg" style="left:101px;color:#3F9A91">(+1.27%)</div>
<div class="abs tl" style="left:15.5px">Tháng 6</div>
<div class="abs tl" style="left:140.5px">Tháng 7</div>
<div class="abs tl" style="left:275.7px">Tháng Tám</div>
<div class="abs tl" style="left:421.8px">Tháng 9</div>
<div class="abs" style="left:0;top:545px;width:593px;height:30px;overflow:hidden"><div class="abs tl" style="left:548.8px;top:9.5px">Tháng 10</div></div>
<div class="abs ft" style="left:406px">22:55:11 (UTC+7)</div>
<div class="abs ft" style="left:540.5px">%</div>
<div class="abs ft" style="left:567px">log</div>
<div class="abs" style="left:598.2px;top:590px;width:2px;height:10px;background:#202330"></div>
</div></body></html>
